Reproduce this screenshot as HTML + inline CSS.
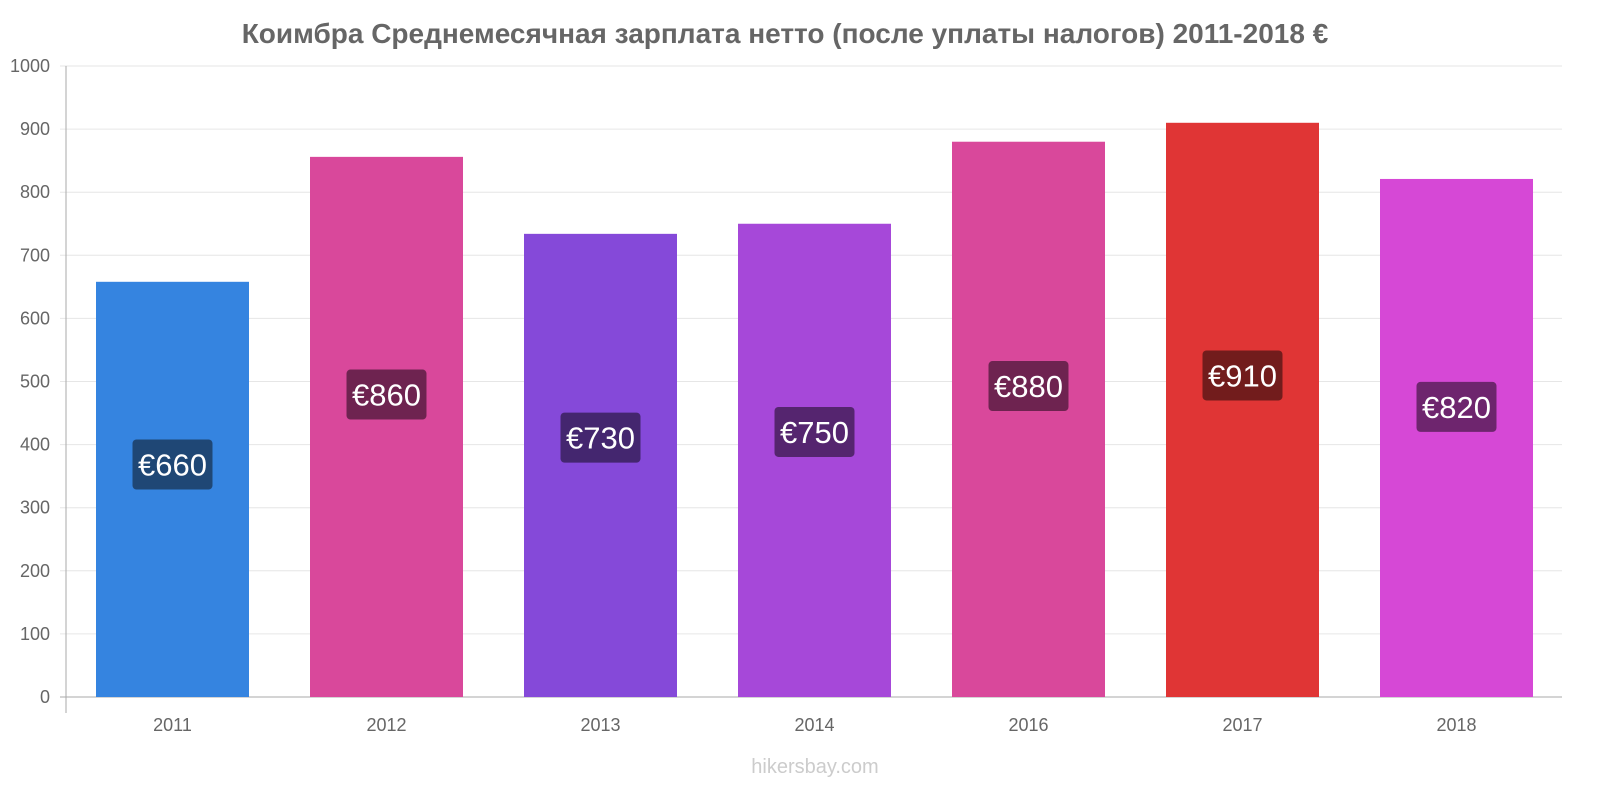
<!DOCTYPE html>
<html><head><meta charset="utf-8"><style>
body{margin:0;background:#fff;}
svg text{font-family:"Liberation Sans",sans-serif;}
</style></head><body>
<svg id="c" width="1600" height="800">
<text x="785" y="43" text-anchor="middle" font-size="28" font-weight="bold" fill="#666">Коимбра Среднемесячная зарплата нетто (после уплаты налогов) 2011-2018 €</text>
<text x="815" y="773" text-anchor="middle" font-size="20" fill="#ccc">hikersbay.com</text>
<g id="g"></g>
</svg>
<script>
const categories=["2011","2012","2013","2014","2016","2017","2018"];
const values=[658,856,734,750,880,910,821];
const labels=["€660","€860","€730","€750","€880","€910","€820"];
const yTicks=[0,100,200,300,400,500,600,700,800,900,1000];
const colors=["#3584e0","#d9489b","#8549d9","#a648d9","#d9489b","#e03535","#d648d6"];
const boxColors=["#1f4775","#6e2350","#44266f","#55256f","#6e2350","#721c1c","#6e256e"];
const NS="http://www.w3.org/2000/svg",g=document.getElementById('g');
const y=v=>697-v*0.631, x=i=>96+i*214, bw=153;
function mk(t,a,p){const e=document.createElementNS(NS,t);for(const k in a)e.setAttribute(k,a[k]);(p||g).appendChild(e);return e;}
yTicks.forEach(t=>{
 const l=mk('line',{x1:60,x2:1562,y1:y(t),y2:y(t),stroke:t?'#e6e6e6':'#aaa','stroke-width':1});
 
 
 const tx=mk('text',{x:50,y:y(t)+6,'text-anchor':'end','font-size':18,fill:'#666'});tx.textContent=t;
 
 
});
const ax=mk('line',{x1:66,x2:66,y1:66,y2:713,stroke:'#aaa'});


categories.forEach((c,i)=>{
 const r=mk('rect',{x:x(i),y:y(values[i]),width:bw,height:697-y(values[i]),fill:colors[i]});
 
 
 const cx=x(i)+bw/2, cy=697-(697-y(values[i]))*0.56;
 const b=mk('rect',{x:cx-40,y:cy-25,width:80,height:50,rx:4,fill:boxColors[i]});
 
 
 const t=mk('text',{x:cx,y:cy+11,'text-anchor':'middle','font-size':31,fill:'#fff'});t.textContent=labels[i];
 
 
 const xl=mk('text',{x:cx,y:731,'text-anchor':'middle','font-size':18,fill:'#666'});xl.textContent=c;
 
 
});
</script>
</body></html>
